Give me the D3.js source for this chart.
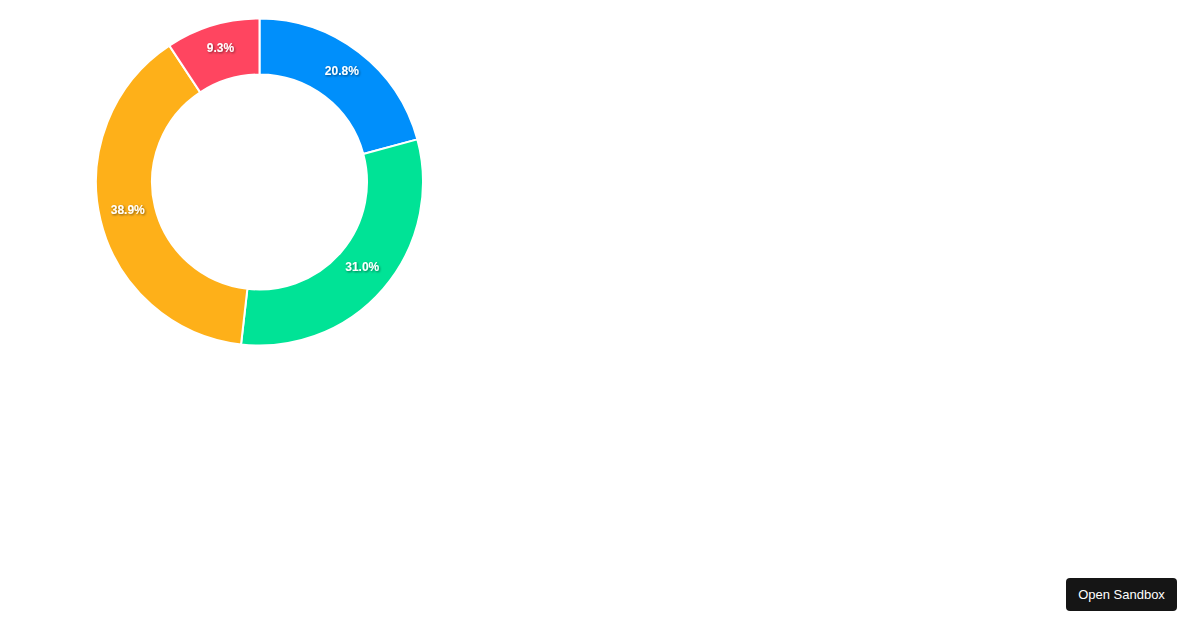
<!DOCTYPE html>
<html>
<head>
<meta charset="utf-8">
<script src="https://cdn.jsdelivr.net/npm/d3@7"></script>
<style>
    html, body { margin: 0; padding: 0; background: #fff; width: 1200px; height: 630px; overflow: hidden; }
    #svg { position: absolute; left: 0; top: 0; }
    .sandbox-btn {
        position: absolute; left: 1066px; top: 578px; width: 111px; height: 33px;
        background: #151515; color: #fff; border: none; border-radius: 4px;
        font-family: "Liberation Sans", Arial, sans-serif; font-size: 13px;
        display: flex; align-items: center; justify-content: center;
    }
</style>
</head>
<body>
<svg id="svg"></svg>
<div class="sandbox-btn">Open Sandbox</div>
<script>
const width = 1200;
const height = 630;

// series
const categories = ["A", "B", "C", "D"];
const values = [20.8, 31.0, 38.9, 9.3];
const colours = ["#008FFB", "#00E396", "#FEB019", "#FF4560"];

const cx = 259.5;
const cy = 182;
const outerRadius = 163.5;
const innerRadius = 107.5;

let svg = d3.select("#svg")
    .attr("width", width)
    .attr("height", height);

// drop shadow for the labels
const filter = svg.append("defs").append("filter")
    .attr("id", "shadow")
    .attr("x", "-20%").attr("y", "-20%")
    .attr("width", "140%").attr("height", "140%");
filter.append("feDropShadow")
    .attr("dx", 1).attr("dy", 1)
    .attr("stdDeviation", 1)
    .attr("flood-color", "#000")
    .attr("flood-opacity", 0.5);

const data = categories.map((c, i) => ({ name: c, value: values[i], colour: colours[i] }));
const total = d3.sum(values);

const pie = d3.pie()
    .value(d => d.value)
    .sort(null);

const arc = d3.arc()
    .innerRadius(innerRadius)
    .outerRadius(outerRadius);

const labelArc = d3.arc()
    .innerRadius((innerRadius + outerRadius) / 2)
    .outerRadius((innerRadius + outerRadius) / 2);

const chart = svg.append("g")
    .attr("transform", `translate(${cx},${cy})`);

const arcs = pie(data);

chart.selectAll(".slice")
    .data(arcs)
    .enter().append("path")
    .attr("class", "slice")
    .attr("d", arc)
    .attr("fill", d => d.data.colour)
    .attr("stroke", "#fff")
    .attr("stroke-width", 2);

chart.selectAll(".label")
    .data(arcs)
    .enter().append("text")
    .attr("class", "label")
    .attr("transform", d => `translate(${labelArc.centroid(d)})`)
    .attr("text-anchor", "middle")
    .attr("dy", "0.02em")
    .attr("filter", "url(#shadow)")
    .style("font-family", "'Liberation Sans', Arial, Helvetica, sans-serif")
    .style("font-size", "12px")
    .style("font-weight", "bold")
    .style("fill", "#fff")
    .text(d => (d.data.value / total * 100).toFixed(1) + "%");
</script>
</body>
</html>
